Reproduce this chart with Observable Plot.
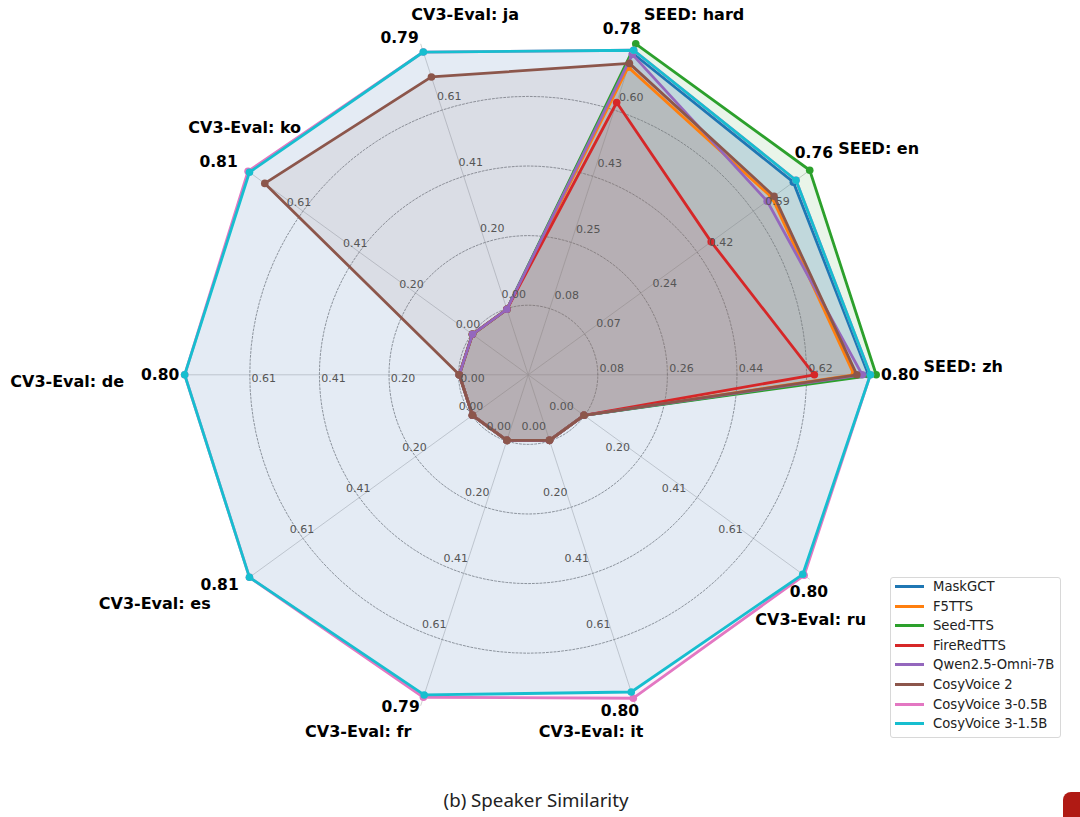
<!DOCTYPE html>
<html>
<head>
<meta charset="utf-8">
<script src="https://cdn.jsdelivr.net/npm/d3@7"></script>
<script src="https://cdn.jsdelivr.net/npm/@observablehq/plot@0.6"></script>
<style>
  body { margin: 0; background: #fff; }
  #page { position: relative; width: 1080px; height: 817px; overflow: hidden; }
  #legend { position: absolute; left: 890px; top: 577px; width: 169px; height: 159px; border: 1px solid #d8d8d8; border-radius: 3px; background: #fff; font: 13.2px "DejaVu Sans"; color: #222; }
  #legend div { position: absolute; left: 42px; height: 20px; line-height: 20px; white-space: nowrap; }
  #legend i { position: absolute; left: -38px; top: 8px; width: 29px; height: 3px; }
  #caption { position: absolute; left: 0; top: 787px; width: 1072px; text-align: center; font: 18.7px "Noto Sans"; color: #222; }
  #badge { position: absolute; left: 1063px; top: 792px; width: 30px; height: 40px; border-radius: 8px; background: #b01a14; }
</style>
</head>
<body>
<div id="page">
  <div id="chart"></div>
  <div id="legend"></div>
  <div id="caption">(b) Speaker Similarity</div>
  <div id="badge"></div>
</div>
<script>
const axes = ["SEED: zh", "SEED: en", "SEED: hard", "CV3-Eval: ja", "CV3-Eval: ko", "CV3-Eval: de", "CV3-Eval: es", "CV3-Eval: fr", "CV3-Eval: it", "CV3-Eval: ru"];
// value at the centre and at the rim of each axis
const axisLow = [-0.1, -0.1, -0.1, -0.2, -0.2, -0.2, -0.2, -0.2, -0.2, -0.2];
const axisHigh = [0.80, 0.76, 0.78, 0.81, 0.81, 0.81, 0.81, 0.81, 0.81, 0.81];
const peakLabels = ["0.80", "0.76", "0.78", "0.79", "0.81", "0.80", "0.81", "0.79", "0.80", "0.80"];
const tickLabels = [
  ["0.08", "0.26", "0.44", "0.62"],
  ["0.07", "0.24", "0.42", "0.59"],
  ["0.08", "0.25", "0.43", "0.60"],
  ["0.00", "0.20", "0.41", "0.61"],
  ["0.00", "0.20", "0.41", "0.61"],
  ["0.00", "0.20", "0.41", "0.61"],
  ["0.00", "0.20", "0.41", "0.61"],
  ["0.00", "0.20", "0.41", "0.61"],
  ["0.00", "0.20", "0.41", "0.61"],
  ["0.00", "0.20", "0.41", "0.61"]
];

const models = ["MaskGCT", "F5TTS", "Seed-TTS", "FireRedTTS", "Qwen2.5-Omni-7B", "CosyVoice 2", "CosyVoice 3-0.5B", "CosyVoice 3-1.5B"];
const colors = ["#1f77b4", "#ff7f0e", "#2ca02c", "#d62728", "#9467bd", "#8c564b", "#e377c2", "#17becf"];

const maskGCT = [0.78, 0.71, 0.755, 0, 0, 0, 0, 0, 0, 0];
const f5tts = [0.743, 0.645, 0.718, 0, 0, 0, 0, 0, 0, 0];
const seedTTS = [0.80, 0.76, 0.78, 0, 0, 0, 0, 0, 0, 0];
const fireRed = [0.64, 0.459, 0.624, 0, 0, 0, 0, 0, 0, 0];
const qwen = [0.764, 0.63, 0.752, 0, 0, 0, 0, 0, 0, 0];
const cosy2 = [0.75, 0.651, 0.728, 0.709, 0.745, 0, 0, 0, 0, 0];
const cosy305 = [0.785, 0.718, 0.763, 0.785, 0.805, 0.797, 0.80, 0.784, 0.787, 0.79];
const cosy315 = [0.785, 0.718, 0.763, 0.785, 0.80, 0.797, 0.80, 0.777, 0.768, 0.785];
const series = [maskGCT, f5tts, seedTTS, fireRed, qwen, cosy2, cosy305, cosy315];

// layout: pixel nudges for the labels, one per axis
const peakDx = [14, -4, -17, -18, -20, -10, -19, -17, -19, -9];
const peakDy = [0, -11, -5, 4, -2, 0, 0, -8, -4, 7];
const nameDx = [50, 39, 47, 56, 28, -76, -62, -51, -56, -29];
const nameDy = [-8, 0, 6, 6, -21, 7, 3, -9, -9, 19];
const tickDx = [14, 24, 17, 7, -4, 14, -1, -8, -16, -23];
const tickDy = [-6, -10, -13, -14, -9, 4, -9, -15, -15, -9];

const width = 1080, height = 780;
const cx = 527.7, cy = 374.3, R = 348;

const angle = (i) => (i * 2 * Math.PI) / axes.length;
const px = (i, r) => r * Math.cos(angle(i));
const py = (i, r) => r * Math.sin(angle(i));
const radius = (i, v) => (v - axisLow[i]) / (axisHigh[i] - axisLow[i]);

const rings = [0.2, 0.4, 0.6, 0.8];
const spokes = axes.map((a, i) => i);

const ringMarks = rings.map((r) =>
  Plot.line(d3.range(0, 361, 3), {
    x: (t) => r * Math.cos((t * Math.PI) / 180),
    y: (t) => r * Math.sin((t * Math.PI) / 180),
    stroke: "#777",
    strokeWidth: 0.8,
    strokeDasharray: "2,1.8"
  })
);

const rowsOf = (m) => axes.map((a, i) => ({i, r: radius(i, series[m][i])}));

// the fills go under every line, as in the original
const fillMarks = models.map((name, m) =>
  Plot.line(rowsOf(m), {
    x: (d) => px(d.i, d.r),
    y: (d) => py(d.i, d.r),
    curve: "linear-closed",
    fill: colors[m],
    fillOpacity: 0.1
  })
);

const lineMarks = models.flatMap((name, m) => [
  Plot.line(rowsOf(m), {
    x: (d) => px(d.i, d.r),
    y: (d) => py(d.i, d.r),
    curve: "linear-closed",
    stroke: colors[m],
    strokeWidth: 2.8
  }),
  Plot.dot(rowsOf(m), {x: (d) => px(d.i, d.r), y: (d) => py(d.i, d.r), r: 3.8, fill: colors[m]})
]);

const labelMarks = axes.flatMap((name, i) => [
  ...rings.map((r, k) =>
    Plot.text([tickLabels[i][k]], {
      x: () => px(i, r),
      y: () => py(i, r),
      text: (d) => d,
      dx: tickDx[i],
      dy: tickDy[i],
      fontSize: 11,
      fill: "#555"
    })
  ),
  Plot.text([peakLabels[i]], {
    x: () => px(i, 358 / R),
    y: () => py(i, 358 / R),
    text: (d) => d,
    dx: peakDx[i],
    dy: peakDy[i],
    fontSize: 15.5,
    fontWeight: "bold",
    fill: "#000"
  }),
  Plot.text([name], {
    x: () => px(i, 385 / R),
    y: () => py(i, 385 / R),
    text: (d) => d,
    dx: nameDx[i],
    dy: nameDy[i],
    fontSize: 16,
    fontWeight: "bold",
    fill: "#000"
  })
]);

const chart = Plot.plot({
  width,
  height,
  margin: 0,
  style: {fontFamily: "DejaVu Sans", background: "transparent", maxWidth: "none"},
  x: {axis: null, domain: [-cx / R, (width - cx) / R], range: [0, width]},
  y: {axis: null, domain: [-(height - cy) / R, cy / R], range: [height, 0]},
  marks: [
    Plot.link(spokes, {
      x1: 0,
      y1: 0,
      x2: (i) => px(i, 1),
      y2: (i) => py(i, 1),
      stroke: "#bbb",
      strokeWidth: 0.7
    }),
    ...ringMarks,
    ...fillMarks,
    ...lineMarks,
    ...labelMarks
  ]
});
d3.select("#chart").append(() => chart);

const legend = d3.select("#legend");
models.forEach((name, m) => {
  const row = legend.append("div").style("top", `${Math.round(-1 + m * 19.6)}px`).text(name);
  row.append("i").style("background", colors[m]);
});
</script>
</body>
</html>
